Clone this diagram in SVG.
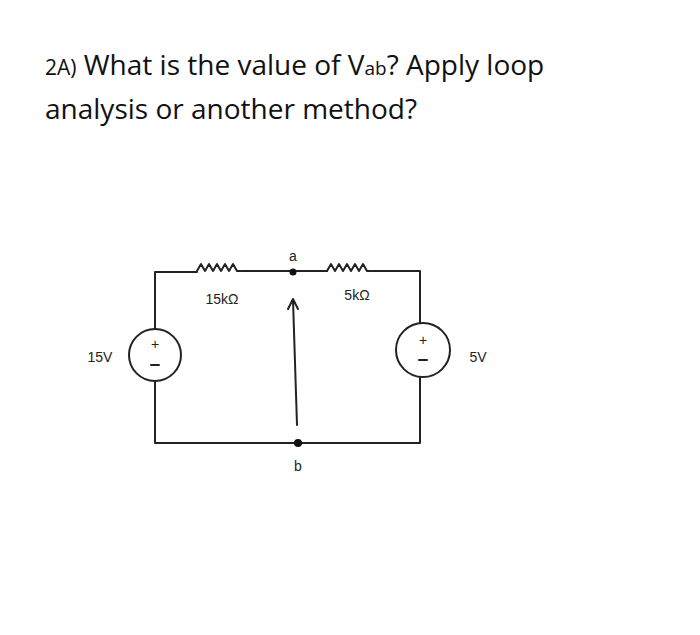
<svg xmlns="http://www.w3.org/2000/svg" width="700" height="635" viewBox="0 0 700 635">
<style>
.w{fill:none;stroke:#222;stroke-width:2;stroke-linecap:round;stroke-linejoin:round}
.t{font-family:"Open Sans","Liberation Sans",sans-serif;fill:#111}
.h{font-family:"Liberation Sans",sans-serif;fill:#222;font-size:14px}
</style>
<rect width="700" height="635" fill="#fff"/>
<text class="t" x="45" y="75" font-size="28"><tspan font-size="21">2A)</tspan> What is the value of V<tspan font-size="19">ab</tspan>? Apply loop</text>
<text class="t" x="45" y="119" font-size="28">analysis or another method?</text>
<g id="wires" class="w">
<path d="M155,329 V272 H197 M242,271 H327 M372,271 H420 V323"/>
<path d="M155,381 V443 H420 V377"/>
</g>
<g id="R1"><path class="w" d="M197,271 l4,-7 l4,7 l4,-7 l4,7 l4,-7 l4,7 l4,-7 l4,7 l4,-7 l4,7 l4,0"/><text class="h" x="222" y="304" text-anchor="middle">15kΩ</text></g>
<g id="R2"><path class="w" d="M327,271 l4,-7 l4,7 l4,-7 l4,7 l4,-7 l4,7 l4,-7 l4,7 l4,-7 l4,7 l4,0"/><text class="h" x="357" y="300" text-anchor="middle">5kΩ</text></g>
<g id="V1"><circle class="w" cx="155" cy="355" r="26"/><text class="h" x="155" y="349" text-anchor="middle">+</text><line class="w" x1="151" y1="365" x2="159" y2="365"/><text class="h" x="100" y="362" text-anchor="middle">15V</text></g>
<g id="V2"><circle class="w" cx="423" cy="350" r="27"/><text class="h" x="423" y="345" text-anchor="middle">+</text><line class="w" x1="419" y1="360" x2="427" y2="360"/><text class="h" x="478" y="362" text-anchor="middle">5V</text></g>
<g id="a"><circle cx="293" cy="272" r="3.5" fill="#111"/><text class="h" x="293" y="261" text-anchor="middle">a</text></g>
<g id="b"><circle cx="298" cy="443" r="4" fill="#111"/><text class="h" x="298" y="471" text-anchor="middle">b</text></g>
<g id="connectors"><path class="w" stroke-width="1.5" d="M297,425 L293,300 M288,309 L293,299 L298,309"/></g>
</svg>
